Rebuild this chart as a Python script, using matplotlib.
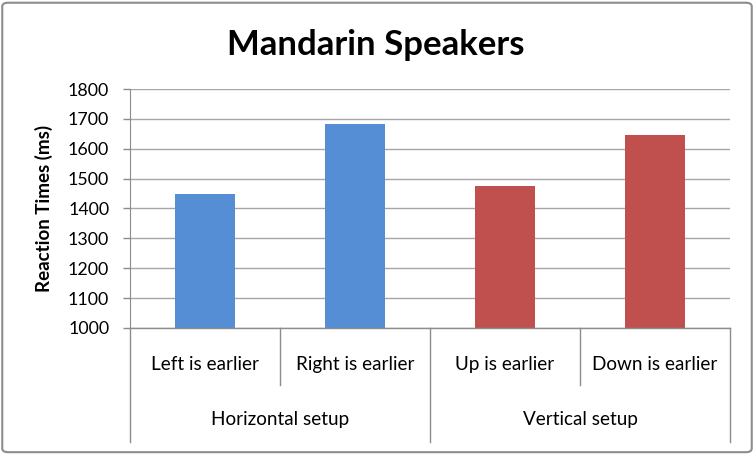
import matplotlib.pyplot as plt
from matplotlib.patches import FancyBboxPatch
from matplotlib.transforms import blended_transform_factory

# data
categories = ['Left is earlier', 'Right is earlier', 'Up is earlier', 'Down is earlier']
groups = ['Horizontal setup', 'Vertical setup']
reaction_times = [1450, 1683, 1475, 1647]
bar_colors = ['#558ED5', '#558ED5', '#C0504D', '#C0504D']
yticks = [1000, 1100, 1200, 1300, 1400, 1500, 1600, 1700, 1800]

plt.rcParams['font.family'] = ['Lato', 'DejaVu Sans']

fig = plt.figure(figsize=(7.54, 4.54), dpi=100)
ax = fig.add_axes([130 / 754, 1 - 328 / 454, 600 / 754, 239 / 454])

x = range(len(categories))
ax.bar(x, [v - 1000 for v in reaction_times], bottom=1000, width=0.4,
       color=bar_colors, zorder=3)

ax.set_xlim(-0.5, 3.5)
ax.set_ylim(1000, 1800)
ax.set_yticks(yticks)
ax.set_yticklabels([str(t) for t in yticks], fontsize=12.8)
ax.tick_params(axis='y', length=5, width=1, color='#8C8C8C', pad=10)
ax.set_xticks([])
ax.yaxis.grid(True, color='#A6A6A6', linewidth=1, zorder=0)

for side in ['top', 'right', 'bottom']:
    ax.spines[side].set_visible(False)
ax.spines['left'].set_color('#8C8C8C')
ax.axhline(1000, color='#8C8C8C', linewidth=1, zorder=4, clip_on=False)

ax.set_ylabel('Reaction Times (ms)', fontsize=13.5, fontweight='bold', labelpad=11)
fig.text(376 / 754, 1 - 45 / 454, 'Mandarin Speakers', fontsize=25,
         fontweight='bold', ha='center', va='center')

# category / group labels under the axis
tr = blended_transform_factory(ax.transData, ax.transAxes)
line_kw = dict(color='#8C8C8C', linewidth=1, transform=tr, clip_on=False)
for i, cat in enumerate(categories):
    ax.text(i, -0.151, cat, ha='center', va='center', fontsize=13.6, transform=tr)
for xs in [0.5, 2.5]:
    ax.plot([xs, xs], [0, -0.2385], **line_kw)
for xs in [-0.5, 1.5, 3.5]:
    ax.plot([xs, xs], [0, -0.477], **line_kw)
for g, gname in enumerate(groups):
    ax.text(2 * g + 0.5, -0.381, gname, ha='center', va='center', fontsize=13.6, transform=tr)

# outer chart border
fig.patches.append(FancyBboxPatch((0.003, 0.004), 0.994, 0.99,
                                  boxstyle='round,pad=0,rounding_size=0.008',
                                  transform=fig.transFigure, fill=False,
                                  edgecolor='#8C8C8C', linewidth=1.5))

fig.savefig('out.png', dpi=100)
